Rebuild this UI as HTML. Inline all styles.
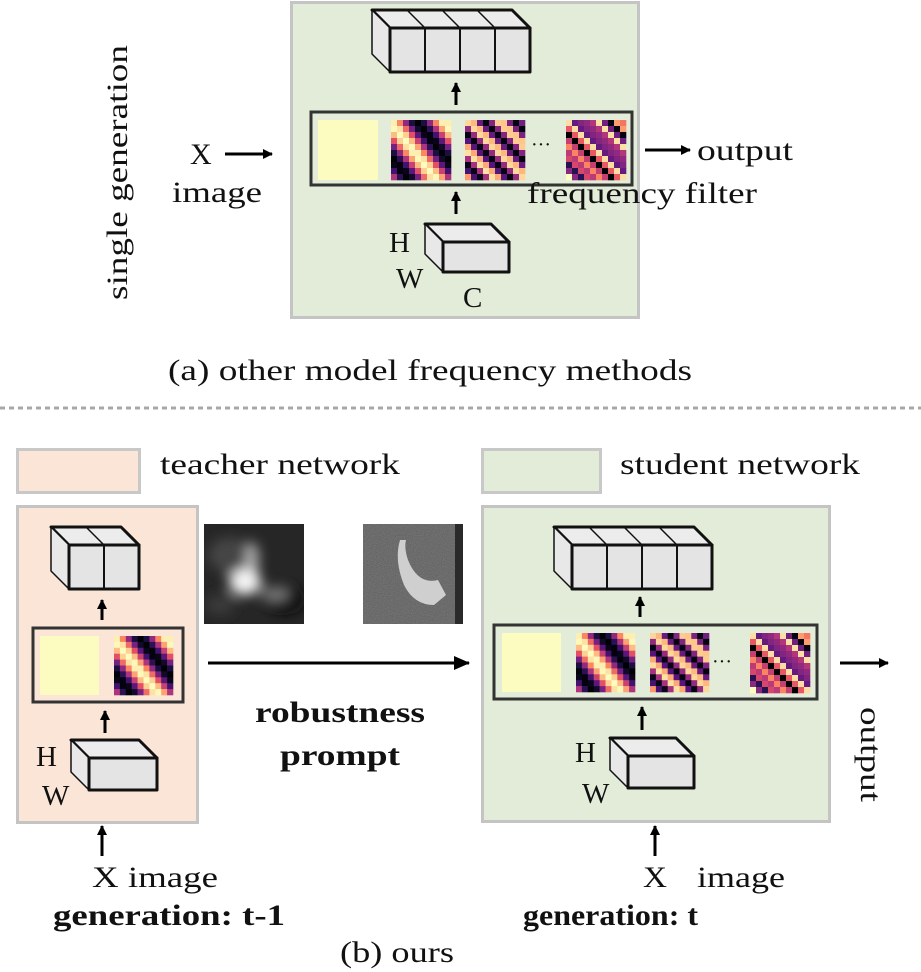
<!DOCTYPE html>
<html><head><meta charset="utf-8"><style>
html,body{margin:0;padding:0;background:#fff}
svg{display:block}
text{font-family:"Liberation Serif","Times New Roman",Times,serif;fill:#111}
</style></head><body>
<svg id="s" width="921" height="972" viewBox="0 0 921 972" xmlns="http://www.w3.org/2000/svg">
<defs>
<marker id="ah" markerWidth="10" markerHeight="10" refX="9" refY="5" orient="auto" markerUnits="userSpaceOnUse"><path d="M0,0 L10,5 L0,10 Z" fill="#000"/></marker>
<marker id="ab" markerWidth="16" markerHeight="14" refX="15" refY="7" orient="auto" markerUnits="userSpaceOnUse"><path d="M0,0 L16,7 L0,14 Z" fill="#000"/></marker>
<filter id="bl" x="-50%" y="-50%" width="200%" height="200%"><feGaussianBlur stdDeviation="6"/></filter>
<filter id="nz" x="0" y="0" width="100%" height="100%"><feTurbulence type="fractalNoise" baseFrequency="0.9" numOctaves="1"/><feColorMatrix type="saturate" values="0"/></filter>
<clipPath id="c1"><rect x="204" y="524" width="100" height="100"/></clipPath>
<clipPath id="c2"><rect x="363" y="524" width="100" height="100"/></clipPath>
</defs>
<rect x="291.5" y="2.5" width="347" height="315" fill="#e2ecd8" stroke="#c4c4c4" stroke-width="3"/>
<rect x="311" y="112" width="321" height="73" fill="none" stroke="#333" stroke-width="3"/>
<g id="g1"></g>
<text x="531" y="151" font-size="20">···</text>
<line x1="456" y1="105" x2="456" y2="83" stroke="#000" stroke-width="3" marker-end="url(#ah)"/>
<line x1="456" y1="214" x2="456" y2="192" stroke="#000" stroke-width="3" marker-end="url(#ah)"/>
<text x="389" y="252" font-size="29">H</text>
<text x="396" y="288" font-size="29">W</text>
<text x="463" y="307" font-size="29">C</text>
<line x1="225" y1="154" x2="272" y2="154" stroke="#000" stroke-width="3" marker-end="url(#ah)"/>
<text x="190" y="164" font-size="30">X</text>
<text x="172" y="202" font-size="30" textLength="90" lengthAdjust="spacingAndGlyphs">image</text>
<line x1="645" y1="150" x2="690" y2="150" stroke="#000" stroke-width="3" marker-end="url(#ah)"/>
<text x="697" y="160" font-size="30" textLength="96" lengthAdjust="spacingAndGlyphs">output</text>
<text x="527" y="203" font-size="30" textLength="230" lengthAdjust="spacingAndGlyphs">frequency filter</text>
<text transform="translate(127,300) rotate(-90)" font-size="30" textLength="255" lengthAdjust="spacingAndGlyphs">single generation</text>
<text x="168" y="380" font-size="30" textLength="524" lengthAdjust="spacingAndGlyphs">(a) other model frequency methods</text>
<line x1="0" y1="408" x2="921" y2="408" stroke="#a8a8a8" stroke-width="3" stroke-dasharray="5,4"/>
<rect x="17.5" y="449.5" width="122" height="43" fill="#fae5d7" stroke="#c8c8c8" stroke-width="3"/>
<text x="160" y="474" font-size="30" textLength="240" lengthAdjust="spacingAndGlyphs">teacher network</text>
<rect x="482.5" y="449.5" width="118" height="43" fill="#e2ecd8" stroke="#c8c8c8" stroke-width="3"/>
<text x="620" y="474" font-size="30" textLength="240" lengthAdjust="spacingAndGlyphs">student network</text>
<rect x="17.5" y="506.5" width="180" height="316" fill="#fae5d7" stroke="#c4c4c4" stroke-width="3"/>
<rect x="33" y="628" width="150" height="74" fill="none" stroke="#333" stroke-width="3"/>
<line x1="102" y1="620" x2="102" y2="600" stroke="#000" stroke-width="3" marker-end="url(#ah)"/>
<line x1="105" y1="733" x2="105" y2="711" stroke="#000" stroke-width="3" marker-end="url(#ah)"/>
<text x="36" y="766" font-size="29">H</text>
<text x="42" y="805" font-size="29">W</text>
<g clip-path="url(#c1)">
<rect x="204" y="524" width="100" height="100" fill="#262626"/>
<g filter="url(#bl)">
<ellipse cx="230" cy="555" rx="22" ry="18" fill="#444"/>
<ellipse cx="285" cy="600" rx="20" ry="14" fill="#111"/>
<ellipse cx="252" cy="560" rx="7" ry="18" fill="#aaa"/>
<ellipse cx="245" cy="582" rx="16" ry="13" fill="#f4f4f4"/>
<ellipse cx="275" cy="594" rx="14" ry="7" fill="#777"/>
<ellipse cx="220" cy="605" rx="15" ry="10" fill="#3a3a3a"/>
</g></g>
<g clip-path="url(#c2)">
<rect x="363" y="524" width="100" height="100" fill="#5e5e5e"/>
<rect x="363" y="524" width="100" height="100" filter="url(#nz)" opacity="0.3"/>
<rect x="455" y="524" width="8" height="100" fill="#2a2a2a"/>
<path d="M400,540 q-6,20 4,45 q10,20 30,20 l12,-10 l-8,-15 q-20,5 -30,-20 q-4,-12 -2,-20 z" fill="#cfcfcf"/>
</g>
<line x1="208" y1="663" x2="469" y2="663" stroke="#000" stroke-width="3" marker-end="url(#ab)"/>
<text x="340" y="722" font-size="30" font-weight="bold" text-anchor="middle" textLength="170" lengthAdjust="spacingAndGlyphs">robustness</text>
<text x="340" y="765" font-size="30" font-weight="bold" text-anchor="middle" textLength="120" lengthAdjust="spacingAndGlyphs">prompt</text>
<rect x="482.5" y="506.5" width="347" height="315" fill="#e2ecd8" stroke="#c4c4c4" stroke-width="3"/>
<rect x="494" y="625" width="323" height="74" fill="none" stroke="#333" stroke-width="3"/>
<text x="712" y="668" font-size="20">···</text>
<line x1="640" y1="617" x2="640" y2="597" stroke="#000" stroke-width="3" marker-end="url(#ah)"/>
<line x1="642" y1="730" x2="642" y2="707" stroke="#000" stroke-width="3" marker-end="url(#ah)"/>
<text x="575" y="762" font-size="29">H</text>
<text x="582" y="803" font-size="29">W</text>
<line x1="840" y1="663" x2="888" y2="663" stroke="#000" stroke-width="3" marker-end="url(#ah)"/>
<text transform="translate(861,707) rotate(90)" font-size="30" textLength="95" lengthAdjust="spacingAndGlyphs">output</text>
<line x1="102" y1="856" x2="102" y2="826" stroke="#000" stroke-width="3" marker-end="url(#ah)"/>
<text x="92" y="887" font-size="30" textLength="126" lengthAdjust="spacingAndGlyphs">X image</text>
<text x="53" y="925" font-size="30" font-weight="bold" textLength="232" lengthAdjust="spacingAndGlyphs">generation: t-1</text>
<line x1="655" y1="856" x2="655" y2="826" stroke="#000" stroke-width="3" marker-end="url(#ah)"/>
<text x="643" y="887" font-size="30" textLength="24" lengthAdjust="spacingAndGlyphs">X</text>
<text x="697" y="887" font-size="30" textLength="88" lengthAdjust="spacingAndGlyphs">image</text>
<text x="523" y="925" font-size="30" font-weight="bold" textLength="175" lengthAdjust="spacingAndGlyphs">generation: t</text>
<text x="340" y="962" font-size="30" textLength="114" lengthAdjust="spacingAndGlyphs">(b) ours</text>
<g id="cubes"></g>
</svg>
<script>
var NS="http://www.w3.org/2000/svg",s=document.getElementById('s');
function el(t,a,p){var e=document.createElementNS(NS,t);for(var k in a)e.setAttribute(k,a[k]);(p||s).appendChild(e);return e;}
var mag=[[0,0,4],[28,16,68],[79,18,123],[129,37,129],[181,54,122],[229,80,100],[251,135,97],[254,194,135],[252,253,191]];
function cm(v){v=Math.max(0,Math.min(1,v));var i=Math.min(7,Math.floor(v*8)),f=v*8-i,a=mag[i],b=mag[i+1];return 'rgb('+[0,1,2].map(function(k){return Math.round(a[k]+(b[k]-a[k])*f)}).join(',')+')';}
function patch(x,y,w,type){
 if(type==0){el('rect',{x:x,y:y,width:w,height:w,fill:'#fcfcc0'});return;}
 var n=10,c=w/n;
 for(var i=0;i<n;i++)for(var j=0;j<n;j++){
  var v;
  if(type==1)v=0.5+0.5*Math.cos(2*Math.PI*(j-0.8*i-4)/9+Math.PI);
  else if(type==2)v=0.5+0.5*Math.cos(2*Math.PI*(j-i)/3.3+0.5)*Math.cos(Math.PI*(j+i)/1.0+0.3);
  else v=0.5+0.3*Math.cos(2*Math.PI*(j-i)/4.5)+0.25*Math.cos(Math.PI*(i*1.3+j*0.7)+1);
  el('rect',{x:x+j*c,y:y+i*c,width:c+0.3,height:c+0.3,fill:cm(v)});
 }
}
patch(318,120,60,0);patch(391,120,60,1);patch(465,120,60,2);patch(566,120,60,3);
patch(40,636,59,0);patch(114,636,59,1);
patch(502,633,59,0);patch(576,633,59,1);patch(650,633,59,2);patch(750,633,60,3);
function cube(x,y,w,h,n,d){
 var g=el('g',{stroke:'#111','stroke-width':3,'stroke-linejoin':'round',fill:'#e4e4e4'});
 el('path',{d:'M'+(x-d)+','+(y-d)+' L'+(x+w-d)+','+(y-d)+' L'+(x+w)+','+y+' L'+x+','+y+' Z',fill:'#ececec'},g);
 el('path',{d:'M'+(x-d)+','+(y-d)+' L'+x+','+y+' L'+x+','+(y+h)+' L'+(x-d)+','+(y+h-d)+' Z',fill:'#e8e8e8','stroke-width':1.5},g);
 el('rect',{x:x,y:y,width:w,height:h},g);
 for(var k=1;k<n;k++){var xx=x+w*k/n;el('line',{x1:xx,y1:y,x2:xx,y2:y+h,'stroke-width':2},g);el('line',{x1:xx-d,y1:y-d,x2:xx,y2:y,'stroke-width':1.5},g);}
}
cube(390,28,140,44,4,18);
cube(443,242,66,30,1,18);
cube(69,545,70,44,2,18);
cube(89,758,68,32,1,18);
cube(572,545,140,44,4,18);
cube(628,756,66,32,1,18);
</script>
</body></html>
